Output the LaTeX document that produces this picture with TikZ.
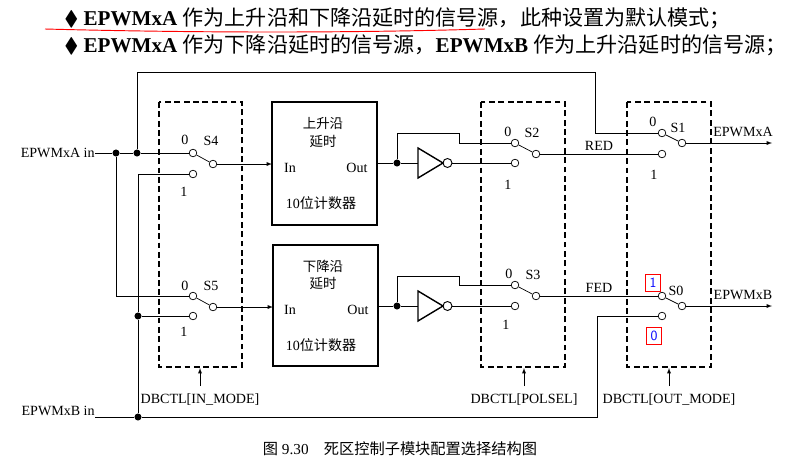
\documentclass[tikz,border=0pt]{standalone}
\usepackage{amssymb}
\usepackage{fontspec}
\setmainfont{Liberation Serif}
\newfontfamily\cjk{Noto Sans CJK SC}
\usetikzlibrary{positioning}
\tikzset{
 contact/.style={circle,draw,fill=white,inner sep=0pt,minimum size=6.5pt},
 joint/.style={circle,fill,inner sep=0pt,minimum size=6pt},
 lbl/.style={inner sep=0pt,font=\fontsize{12}{14}\selectfont},
 zh/.style={inner sep=0pt,font=\fontsize{11.5}{13}\selectfont\cjk},
 selbox/.style={draw,very thick,dashed,dash pattern=on 5pt off 3pt},
 tagbox/.style={draw=red,text=blue,font=\fontsize{12}{12}\sffamily,inner sep=1pt,minimum width=13pt,minimum height=15pt}
}
\begin{document}
\begin{tikzpicture}[x=0.03cm,y=-0.03cm,>=latex,semithick]
\useasboundingbox (0,0) rectangle (786,465);
% header
\node[anchor=west,inner sep=0pt,font=\fontsize{18}{20}\selectfont] (h1) at (64,18) {$\blacklozenge$\ \textbf{EPWMxA} {\cjk 作为上升沿和下降沿延时的信号源，此种设置为默认模式；}};
\node[anchor=west,inner sep=0pt,font=\fontsize{18}{20}\selectfont] (h2) at (64,45) {$\blacklozenge$\ \textbf{EPWMxA} {\cjk 作为下降沿延时的信号源，}\textbf{EPWMxB} {\cjk 作为上升沿延时的信号源；}};
\draw[red,thick] (45,29) .. controls (200,33) and (350,33) .. (485,29);
% blocks
\draw[selbox] (159,102) rectangle (242,367);
\draw[selbox] (481,102) rectangle (565,367);
\draw[selbox] (627,102) rectangle (711,367);
\draw[very thick] (272,102) rectangle (377,225);
\draw[very thick] (273,245) rectangle (378,366);
\node[zh] (r1) at (323,123) {上升沿};
\node[zh] (r2) at (323,141) {延时};
\node[lbl] (rin) at (290,168) {In};
\node[lbl] (rout) at (357,168) {Out};
\node[lbl] (rcnt) at (321,203) {10{\cjk 位计数器}};
\node[zh] (f1) at (323,266) {下降沿};
\node[zh] (f2) at (323,283) {延时};
\node[lbl] (fin) at (290,310) {In};
\node[lbl] (fout) at (358,310) {Out};
\node[lbl] (fcnt) at (321,345) {10{\cjk 位计数器}};
% inputs
\node[lbl,anchor=east] (ina) at (95,153) {EPWMxA in};
\node[lbl,anchor=east] (inb) at (95,411) {EPWMxB in};
\node[joint] (ja) at (116,153) {};
\node[joint] (jb) at (137,153) {};
\node[joint] (jc) at (138,316) {};
\node[joint] (jd) at (138,417) {};
% switches
\node[contact] (s4a) at (193,153) {};
\node[contact] (s4o) at (213,164) {};
\node[contact] (s4b) at (193,174) {};
\node[contact] (s5a) at (193,296) {};
\node[contact] (s5o) at (213,307) {};
\node[contact] (s5b) at (193,316) {};
\node[contact] (s2a) at (515,143) {};
\node[contact] (s2o) at (536,154) {};
\node[contact] (s2b) at (515,163) {};
\node[contact] (s3a) at (515,285) {};
\node[contact] (s3o) at (536,296) {};
\node[contact] (s3b) at (515,306) {};
\node[contact] (s1a) at (662,133) {};
\node[contact] (s1o) at (682,143) {};
\node[contact] (s1b) at (662,154) {};
\node[contact] (s0a) at (662,296) {};
\node[contact] (s0o) at (682,306) {};
\node[contact] (s0b) at (662,316) {};
\foreach \s in {s4,s5,s2,s3,s1,s0} \draw (\s a) -- (\s o);
\node[lbl] (l40) at (185,140) {0}; \node[lbl] (l4) at (211,141) {S4}; \node[lbl] (l41) at (184,192) {1};
\node[lbl] (l50) at (185,286) {0}; \node[lbl] (l5) at (211,286) {S5}; \node[lbl] (l51) at (184,332) {1};
\node[lbl] (l20) at (508,132) {0}; \node[lbl] (l2) at (532,133) {S2}; \node[lbl] (l21) at (508,185) {1};
\node[lbl] (l30) at (509,274) {0}; \node[lbl] (l3) at (533,275) {S3}; \node[lbl] (l31) at (506,325) {1};
\node[lbl] (l10) at (653,122) {0}; \node[lbl] (l1) at (678,128) {S1}; \node[lbl] (l11) at (654,175) {1};
\node[lbl] (l0) at (676,291) {S0};
\node[tagbox] (m1) at (653,283) {1};
\node[tagbox] (m0) at (654,336) {0};
% wiring
\draw (ina) -- (ja) -- (jb) -- (s4a);
\draw (ja) |- (s5a);
\draw (jb) |- (595,72) |- (s1a);
\draw (s4b) -| (jc) -- (jd);
\draw (jc) -- (s5b);
\draw (inb.east |- jd) -- (jd) -- (597,417) |- (s0b);
\draw[->] (s4o) -- (272,164);
\draw[->] (s5o) -- (273,307);
% inverter paths
\foreach \y/\a/\b/\o in {163/s2a/s2b/ro,306/s3a/s3b/fo}{
 \node[joint] (\o) at (397,\y) {};
 \draw (377,\y) -- (\o) -- (418,\y);
 \draw[very thick] (418,\y-15) -- (443,\y) -- (418,\y+15) -- cycle;
 \draw[thick] (447.5,\y) circle (4.5);
 \draw (452,\y) -- (\b);
 \draw (\o) -- (397,\y-30) -- (459,\y-30) |- (\a);
}
\draw (s2o) -- node[lbl,above=3pt] (red) {RED} (s1b);
\draw (s3o) -- node[lbl,above=3pt] (fed) {FED} (s0a);
\draw[->] (s1o) -- (772,143);
\draw[->] (s0o) -- (772,306);
\node[lbl] (oa) at (743,132) {EPWMxA};
\node[lbl] (ob) at (743,295) {EPWMxB};
% control inputs
\foreach \x/\t in {200/IN\_MODE,524/POLSEL,669/OUT\_MODE}{
 \draw[->] (\x,386) -- (\x,368);
 \node[lbl] at (\x,400) {DBCTL[\t]};
}
\node[lbl,font=\fontsize{13}{15}\selectfont] (cap) at (400,449) {{\cjk 图} 9.30\quad {\cjk 死区控制子模块配置选择结构图}};
\end{tikzpicture}
\end{document}
